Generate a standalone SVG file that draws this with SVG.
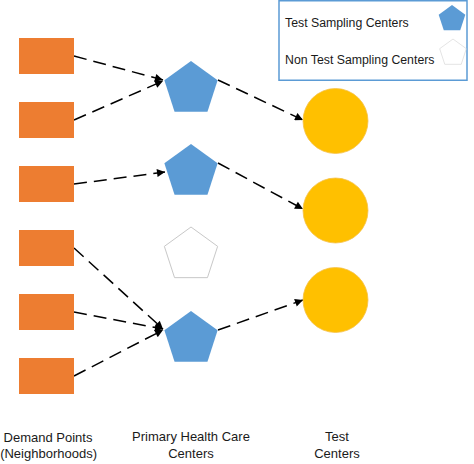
<svg xmlns="http://www.w3.org/2000/svg" width="474" height="464" viewBox="0 0 474 464">
<defs>
<style>
.dp{fill:#ED7D31;}
.ts{fill:#5B9BD5;}
.nt{fill:#FFFFFF;stroke:#C8C8C8;stroke-width:1;}
.tc{fill:#FFC000;stroke:#F5C24A;stroke-width:0.8;}
.lbl{font-family:"Liberation Sans",Arial,sans-serif;font-size:13px;fill:#1a1a1a;}
.leg{font-family:"Liberation Sans",Arial,sans-serif;font-size:12.3px;fill:#1a1a1a;}
.cn{fill:none;stroke:#000;stroke-width:1.5;stroke-dasharray:13 7;marker-end:url(#arr);}
</style>
<marker id="arr" viewBox="0 0 10 10" refX="10" refY="5" markerWidth="9" markerHeight="8" markerUnits="userSpaceOnUse" orient="auto">
<path d="M0,0 L10,5 L0,10 Z" fill="#000"/>
</marker>
<polygon id="pent" points="0,-28 26.63,-8.65 16.46,22.65 -16.46,22.65 -26.63,-8.65"/>
</defs>
<rect width="474" height="464" fill="#fff"/>

<g id="legend">
<rect x="279" y="0.75" width="188" height="79.5" fill="#fff" stroke="#5B9BD5" stroke-width="1.5"/>
<text class="leg" x="285" y="27">Test Sampling Centers</text>
<text class="leg" x="285" y="64">Non Test Sampling Centers</text>
<polygon class="ts" transform="translate(452,19) scale(0.5)" points="0,-28 26.63,-8.65 16.46,22.65 -16.46,22.65 -26.63,-8.65"/>
<polygon class="nt" transform="translate(453,53) scale(0.5)" points="0,-28 26.63,-8.65 16.46,22.65 -16.46,22.65 -26.63,-8.65" stroke-width="2"/>
</g>

<g id="connectors">
<line class="cn" x1="74" y1="56" x2="163" y2="80"/>
<line class="cn" x1="74" y1="120" x2="163" y2="81"/>
<line class="cn" x1="74" y1="184" x2="165" y2="172"/>
<line class="cn" x1="74" y1="248" x2="163" y2="329"/>
<line class="cn" x1="74" y1="312" x2="163" y2="329"/>
<line class="cn" x1="74" y1="376" x2="163" y2="330"/>
<line class="cn" x1="218" y1="80" x2="303" y2="120"/>
<line class="cn" x1="218" y1="163" x2="303" y2="209"/>
<line class="cn" x1="218" y1="330" x2="303" y2="300"/>
</g>

<g id="dp1"><rect class="dp" x="19" y="38" width="55" height="36"/></g>
<g id="dp2"><rect class="dp" x="19" y="102" width="55" height="36"/></g>
<g id="dp3"><rect class="dp" x="19" y="166" width="55" height="36"/></g>
<g id="dp4"><rect class="dp" x="19" y="230" width="55" height="36"/></g>
<g id="dp5"><rect class="dp" x="19" y="294" width="55" height="36"/></g>
<g id="dp6"><rect class="dp" x="19" y="358" width="55" height="36"/></g>

<g id="phc1"><use href="#pent" class="ts" x="191" y="89"/></g>
<g id="phc2"><use href="#pent" class="ts" x="191" y="172"/></g>
<g id="phc3"><use href="#pent" class="nt" x="191" y="255"/></g>
<g id="phc4"><use href="#pent" class="ts" x="191" y="339"/></g>

<g id="tc1"><circle class="tc" cx="335.5" cy="121" r="32.5"/></g>
<g id="tc2"><circle class="tc" cx="335.5" cy="210.5" r="32.5"/></g>
<g id="tc3"><circle class="tc" cx="335.5" cy="300" r="32.5"/></g>

<g id="labels">
<text class="lbl" x="48" y="442" text-anchor="middle">Demand Points</text>
<text class="lbl" x="97" y="458" text-anchor="end">(Neighborhoods)</text>
<text class="lbl" x="191" y="441" text-anchor="middle">Primary Health Care</text>
<text class="lbl" x="191" y="458" text-anchor="middle">Centers</text>
<text class="lbl" x="337" y="441" text-anchor="middle">Test</text>
<text class="lbl" x="337" y="458" text-anchor="middle">Centers</text>
</g>
</svg>
